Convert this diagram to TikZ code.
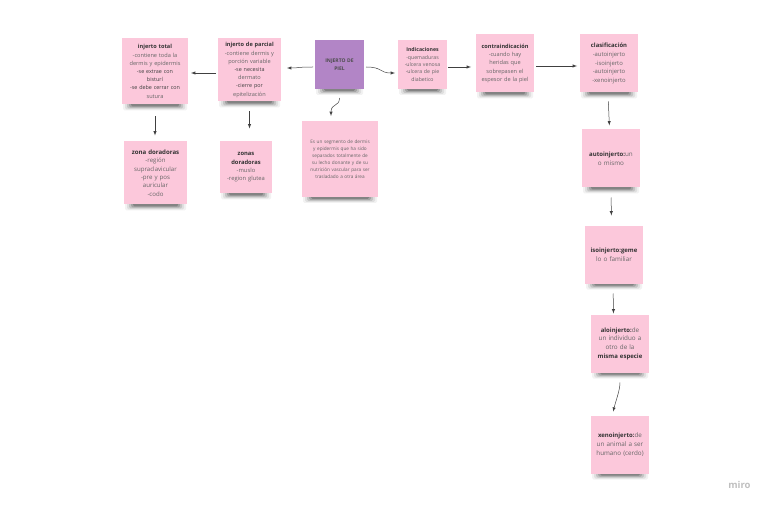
\documentclass[tikz,border=0pt]{standalone}
\usepackage{fontspec}
\setmainfont{Open Sans}
\usepackage{tikz}
\usetikzlibrary{arrows,backgrounds}
\usetikzlibrary{positioning}
\definecolor{notepink}{HTML}{FCC8DB}
\definecolor{notepurple}{HTML}{B285C6}
\tikzset{
    sticky/.style={
           rectangle,
           fill=notepink,
           inner sep=0pt,
           outer sep=0pt,
           text width=#1,
           minimum height=#1,
           align=center,
           text=black!60,
           font=\fontsize{5.6}{8.2}\selectfont,
           },
}
\tikzset{
    link/.style={
           ->,
           >=latex,
           black!75,
           line width=0.5pt,
           },
}
\newcommand{\hd}[1]{{\bfseries\color{black!80}#1}}
\newcommand{\sm}[1]{{\fontsize{5.4}{8}\selectfont\color{black!75}#1}}
\newcommand{\bg}[1]{{\fontsize{6}{8.7}\selectfont\bfseries\color{black!80}#1}}
\begin{document}
\begin{tikzpicture}[x=1pt,y=1pt]
\useasboundingbox (0,0) rectangle (768,-505);
\node[sticky=49pt,fill=notepurple,text=black!70,font=\fontsize{5}{8.4}\selectfont\bfseries](root) at (339.5,-64.5){INJERTO DE\\PIEL};
\node[sticky=63pt,left = 34pt of root,yshift=-5.5pt](parcial){\hd{injerto de parcial}\\-contiene dermis y\\porción variable\\\sm{-se necesita}\\dermato\\\sm{-cierre por}\\epitelización};
\node[sticky=66pt,left = 30pt of parcial,yshift=-1.5pt](total){\hd{injerto total}\\-contiene toda la\\dermis y epidermis\\\sm{-se extrae con}\\\sm{bisturí}\\\sm{-se debe cerrar con}\\sutura};
\node[sticky=63pt,below = 37pt of total,xshift=0.5pt,font=\fontsize{6.1}{8.3}\selectfont](zona){\hd{zona doradoras}\\-región\\supraclavicular\\-pre y pos\\auricular\\-codo};
\node[sticky=52pt,below = 40pt of parcial,xshift=-3.5pt,font=\fontsize{5.8}{8.3}\selectfont](zonas){\hd{zonas}\\\hd{doradoras}\\-muslo\\-region glutea};
\node[sticky=76pt,below = 32pt of root,xshift=0.5pt,font=\fontsize{4.7}{7}\selectfont](def){Es un segmento de dermis\\y epidermis que ha sido\\separados totalmente de\\su lecho donante y de su\\nutrición vascular para ser\\trasladado a otra área};
\node[sticky=49pt,right = 34pt of root,font=\fontsize{5.2}{7.4}\selectfont](indic){\hd{Indicaciones}\\-quemaduras\\-ulcera venosa\\-ulcera de pie\\diabetico};
\node[sticky=58pt,right = 29pt of indic,yshift=1pt,font=\fontsize{5.6}{8.4}\selectfont](contra){\hd{contraindicación}\\-cuando hay\\heridas que\\sobrepasen el\\espesor de la piel};
\node[sticky=58pt,right = 46pt of contra,font=\fontsize{5.9}{8.7}\selectfont](clasif){\hd{clasificación}\\-autoinjerto\\-isoinjerto\\-autoinjerto\\-xenoinjerto};
\node[sticky=58pt,below = 37pt of clasif,xshift=2pt,font=\fontsize{6.3}{8.7}\selectfont](auto){\bg{autoinjerto:}un\\o mismo};
\node[sticky=58pt,below = 38pt of auto,xshift=3pt,font=\fontsize{6.3}{8.7}\selectfont](iso){\bg{isoinjerto:geme}\\lo o familiar};
\node[sticky=58pt,below = 31pt of iso,xshift=6pt,font=\fontsize{6.3}{8.7}\selectfont](alo){\bg{aloinjerto:}de\\un individuo a\\otro de la\\\bg{misma especie}};
\node[sticky=58pt,below = 43pt of alo,font=\fontsize{6.3}{8.7}\selectfont](xeno){\bg{xenoinjerto:}de\\un animal a ser\\humano (cerdo)};
\node[text=black!25,font=\fontsize{9.5}{9.5}\selectfont\bfseries](miro) at (739.5,-484.5){miro};
% soft shadow under each note
\begin{scope}[on background layer]
\foreach \n in {root,parcial,total,zona,zonas,def,indic,contra,clasif,auto,iso,alo,xeno}{
  \foreach \i/\d/\o in {1/6/.05,3/5/.08,5/4/.12,7/3/.16,9/2/.2}{
    \fill[black,opacity=\o,rounded corners=1.5pt] ([xshift=\i pt,yshift=2pt]\n.south west) rectangle ([xshift=-\i pt,yshift=-\d pt]\n.south east);
  }
}
\end{scope}
\path ([yshift=-3pt]parcial.west) edge[link,shorten <=2pt,shorten >=3pt] ([yshift=-1.5pt]total.east);
\path ([yshift=-2.5pt]root.west) edge[link,out=180,in=0,looseness=1.4,shorten <=2pt,shorten >=6pt] ([yshift=2pt]parcial.east);
\path ([yshift=-2.5pt]root.east) edge[link,out=0,in=180,looseness=1.4,shorten <=2pt,shorten >=3pt] ([yshift=-8.5pt]indic.west);
\path (root.south) edge[link,out=-90,in=90,looseness=1.4,shorten <=9pt,shorten >=5pt] ([xshift=-9pt]def.north);
\path ([yshift=-2.5pt]indic.east) edge[link,shorten <=1pt,shorten >=5pt] ([yshift=-3.5pt]contra.west);
\path ([yshift=-2.5pt]contra.east) edge[link,shorten <=2pt,shorten >=3pt] ([yshift=-2.5pt]clasif.west);
\path ([xshift=-1pt]clasif.south) edge[link,shorten <=9pt,shorten >=4pt] ([xshift=-1.5pt]auto.north);
\path (auto.south) edge[link,shorten <=10pt,shorten >=10pt] ([xshift=-2.5pt]iso.north);
\path ([xshift=-1pt]iso.south) edge[link,shorten <=10pt,shorten >=1pt] ([xshift=-6.5pt]alo.north);
\path (alo.south) edge[link,out=-90,in=75,shorten <=10pt,shorten >=4pt] ([xshift=-8pt]xeno.north);
\path (total.south) edge[link,shorten <=12pt,shorten >=6pt] ([xshift=-0.5pt]zona.north);
\path (parcial.south) edge[link,shorten <=10pt,shorten >=13pt] ([xshift=3.5pt]zonas.north);
\end{tikzpicture}
\end{document}
